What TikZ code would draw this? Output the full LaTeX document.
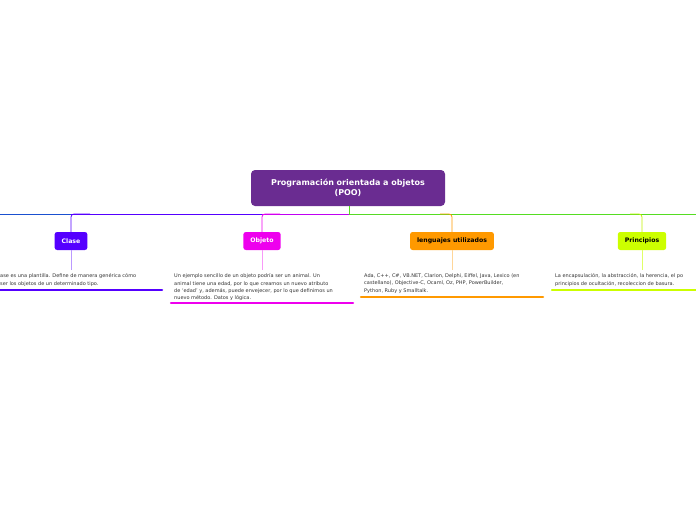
\documentclass[tikz,border=0pt]{standalone}
\usepackage{fontspec}
\setmainfont{DejaVu Sans}
\definecolor{cpurple}{HTML}{6A2C91}
\definecolor{cclase}{HTML}{5500FF}
\definecolor{cobj}{HTML}{EE00EE}
\definecolor{cleng}{HTML}{FF9900}
\definecolor{cprin}{HTML}{CCFF00}
\definecolor{cgreen}{HTML}{55DD22}
\definecolor{cblue}{HTML}{1A50D0}
\begin{document}
\begin{tikzpicture}[x=1pt,y=-1pt,
  box/.style={rounded corners=2.5pt,minimum height=18pt,inner xsep=7pt,font=\fontsize{6.2}{7}\selectfont\bfseries},
  desc/.style={anchor=north west,align=left,inner sep=0pt,font=\fontsize{5}{7.3}\selectfont,text=black!80},
  conn/.style={line width=0.8pt,rounded corners=3pt}]
\useasboundingbox (0,0) rectangle (696,520);
\clip (0,0) rectangle (696,520);
\node[fill=cpurple,text=white,rounded corners=4pt,minimum width=194pt,minimum height=36pt,align=center,font=\fontsize{8}{10}\selectfont\bfseries] (root) at (348,188) {Programación orientada a objetos\\(POO)};
\coordinate (j) at (349,214);
\coordinate (l) at (0,214);
\coordinate (r) at (696,214);
\draw[cgreen,line width=0.8pt] (root.south -| j) -- (j);
\draw[cgreen,line width=0.8pt] (j) -- (r);
\draw[cblue,line width=0.8pt] (l) -- (71,214);
\draw[cclase,line width=0.8pt] (71,214) -- (262,214);
\draw[cobj!70!cclase,line width=0.8pt] (262,214) -- (j);

\node[box,fill=cclase,text=white] (c) at (71,241) {Clase};
\node[box,fill=cobj,text=white] (o) at (262,241) {Objeto};
\node[box,fill=cleng,text=black] (le) at (452,241) {lenguajes utilizados};
\node[box,fill=cprin,text=black] (p) at (642,241) {Principios};

\draw[conn,cclase] (90,214) -| (c.north);
\draw[conn,cobj] (280,214) -| (o.north);
\draw[conn,cleng] (440,214) -| (le.north);
\draw[conn,cprin!70!black!20!cprin] (630,214) -| (p.north);

\coordinate (ce) at (71,270);
\coordinate (oe) at (262,270);
\coordinate (lee) at (452,270);
\coordinate (pe) at (642,270);
\draw[cclase!40,line width=0.8pt] (c.south) -- (ce);
\draw[cobj!40,line width=0.8pt] (o.south) -- (oe);
\draw[cleng!40,line width=0.8pt] (le.south) -- (lee);
\draw[cprin!60,line width=0.8pt] (p.south) -- (pe);

\node[desc] (ct) at (0,273.5) {ase es una plantilla. Define de manera genérica cómo\\ser los objetos de un determinado tipo.};
\node[desc] (ot) at (174,273.5) {Un ejemplo sencillo de un objeto podría ser un animal. Un\\animal tiene una edad, por lo que creamos un nuevo atributo\\de `edad' y, además, puede envejecer, por lo que definimos un\\nuevo método. Datos y lógica.};
\node[desc] (lt) at (364,273.5) {Ada, C++, C\#, VB.NET, Clarion, Delphi, Eiffel, Java, Lexico (en\\castellano), Objective-C, Ocaml, Oz, PHP, PowerBuilder,\\Python, Ruby y Smalltalk.};
\node[desc] (pt) at (555,273.5) {La encapsulación, la abstracción, la herencia, el po\\principios de ocultación, recoleccion de basura.};

\draw[cclase,line width=2.5pt,line cap=round] (-5,290) -- (162,290);
\draw[cobj,line width=2.5pt,line cap=round] (171,303) -- (353,303);
\draw[cleng,line width=2.5pt,line cap=round] (361,297) -- (543,297);
\draw[cprin,line width=2.5pt,line cap=round] (552,290) -- (700,290);
\end{tikzpicture}
\end{document}
